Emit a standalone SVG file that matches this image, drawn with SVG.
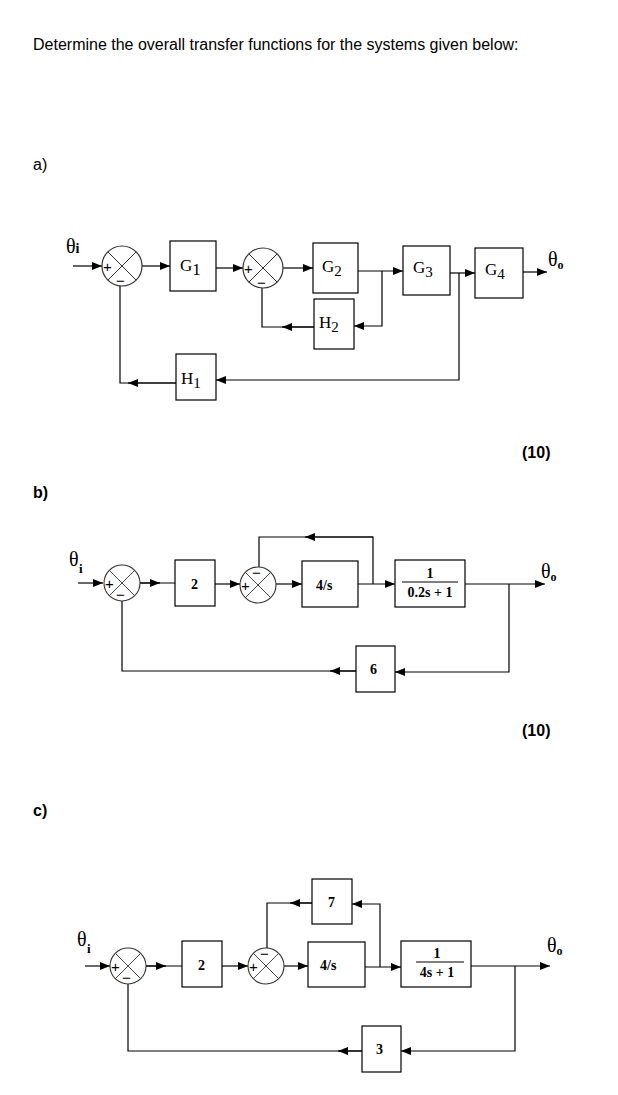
<svg xmlns="http://www.w3.org/2000/svg" width="618" height="1095" viewBox="0 0 618 1095">
<defs>
<marker id="ah" viewBox="0 0 10 8" refX="10" refY="4" markerWidth="10" markerHeight="8" markerUnits="userSpaceOnUse" orient="auto"><path d="M0,0 L10,4 L0,8 Z" fill="#000"/></marker>
<g id="sx"><circle r="1" fill="#fff" stroke="#333" stroke-width="0.06"/><path d="M-0.707,-0.707 L0.707,0.707 M0.707,-0.707 L-0.707,0.707" stroke="#333" stroke-width="0.05"/></g>
</defs>
<style>
.h{font-family:"Liberation Sans",Arial,sans-serif;font-size:16px;fill:#000}
.hb{font-family:"Liberation Sans",Arial,sans-serif;font-size:16px;font-weight:bold;fill:#000}
.t{font-family:"Liberation Serif","Times New Roman",serif;fill:#000}
.b{fill:#fff;stroke:#000;stroke-width:1.2}
.l{fill:none;stroke:#000;stroke-width:1.2}
.a{fill:none;stroke:#000;stroke-width:1.2;marker-end:url(#ah)}
.s{font-family:"Liberation Sans",Arial,sans-serif;font-size:15px;fill:#000}
</style>
<rect width="618" height="1095" fill="#fff"/>
<text class="h" x="33" y="50">Determine the overall transfer functions for the systems given below:</text>
<text class="h" x="33" y="170">a)</text>
<text class="hb" x="33" y="498">b)</text>
<text class="hb" x="33" y="816">c)</text>
<text class="hb" x="522" y="458">(10)</text>
<text class="hb" x="522" y="736">(10)</text>

<!-- Diagram a -->
<g id="a-connectors">
<path class="a" d="M73,266 L102,266"/>
<path class="a" d="M142,266 L170,266"/>
<path class="a" d="M216,268 L243,268"/>
<path class="a" d="M283,268 L313,268"/>
<path class="a" d="M358,271 L403,271"/>
<path class="a" d="M382,271 L382,326 L354,326"/>
<path class="l" d="M314,327 L262,327 L262,288"/>
<path class="a" d="M314,327 L282,327"/>
<path class="a" d="M450,273 L475,273"/>
<path class="a" d="M459,273 L459,380 L216,380"/>
<path class="l" d="M176,383 L120,383 L120,286"/>
<path class="a" d="M176,383 L128,383"/>
<path class="a" d="M523,272 L547,272"/>
</g>
<g id="a-sum1"><use href="#sx" transform="translate(122,266) scale(20)"/><text class="s" x="103" y="272">+</text><text class="s" x="116" y="286">−</text></g>
<g id="a-G1"><rect class="b" x="170" y="241" width="46" height="50"/><text class="t" x="180" y="271" font-size="17">G<tspan font-size="17" dy="4">1</tspan></text></g>
<g id="a-sum2"><use href="#sx" transform="translate(263,268) scale(20)"/><text class="s" x="244" y="274">+</text><text class="s" x="257" y="288">−</text></g>
<g id="a-G2"><rect class="b" x="313" y="243" width="45" height="50"/><text class="t" x="322" y="272" font-size="17">G<tspan font-size="15" dy="4">2</tspan></text></g>
<g id="a-H2"><rect class="b" x="314" y="299" width="40" height="50"/><text class="t" x="319" y="328" font-size="17">H<tspan font-size="15" dy="4">2</tspan></text></g>
<g id="a-G3"><rect class="b" x="403" y="246" width="47" height="49"/><text class="t" x="413" y="273" font-size="17">G<tspan font-size="15" dy="4">3</tspan></text></g>
<g id="a-G4"><rect class="b" x="475" y="248" width="48" height="50"/><text class="t" x="485" y="275" font-size="17">G<tspan font-size="15" dy="4">4</tspan></text></g>
<g id="a-H1"><rect class="b" x="176" y="354" width="40" height="46"/><text class="t" x="181" y="384" font-size="17">H<tspan font-size="15" dy="4">1</tspan></text></g>
<text class="t" x="66" y="253" font-size="20">θ<tspan font-size="14" font-weight="bold">i</tspan></text>
<text class="t" x="548" y="266" font-size="20">θ<tspan font-size="12" font-weight="bold" dy="3">o</tspan></text>

<!-- Diagram b -->
<g id="b-connectors">
<path class="a" d="M78,583 L103,583"/>
<path class="l" d="M140,583 L175,583"/>
<path class="a" d="M140,583 L160,583"/>
<path class="a" d="M215,584 L240,584"/>
<path class="a" d="M276,584 L302,584"/>
<path class="a" d="M358,584 L395,584"/>
<path class="l" d="M373,584 L373,537 L259,537 L259,567"/>
<path class="a" d="M373,537 L305,537"/>
<path class="a" d="M465,584 L545,584"/>
<path class="a" d="M509,584 L509,672 L395,672"/>
<path class="l" d="M356,671 L122,671 L122,601"/>
<path class="a" d="M356,671 L330,671"/>
</g>
<g id="b-sum1"><use href="#sx" transform="translate(122,583) scale(18)"/><text class="s" x="105" y="589">+</text><text class="s" x="116" y="600">−</text></g>
<g id="b-2"><rect class="b" x="175" y="560" width="40" height="46"/><text class="t" x="191" y="589" font-size="14" font-weight="bold">2</text></g>
<g id="b-sum2"><use href="#sx" transform="translate(258,585) scale(18)"/><text class="s" x="241" y="591">+</text><text class="s" x="252" y="578">−</text></g>
<g id="b-4s"><rect class="b" x="302" y="561" width="56" height="46"/><text class="t" x="316" y="590" font-size="14" font-weight="bold">4/s</text></g>
<g id="b-frac"><rect class="b" x="395" y="560" width="70" height="47"/><text class="t" x="430" y="578" font-size="14" font-weight="bold" text-anchor="middle">1</text><line x1="402" y1="582" x2="458" y2="582" stroke="#000" stroke-width="1"/><text class="t" x="430" y="597" font-size="14" font-weight="bold" text-anchor="middle">0.2s + 1</text></g>
<g id="b-6"><rect class="b" x="356" y="646" width="39" height="46"/><text class="t" x="370" y="674" font-size="14" font-weight="bold">6</text></g>
<text class="t" x="69" y="566" font-size="20">θ</text><text class="t" x="79" y="573" font-size="13" font-weight="bold">i</text>
<text class="t" x="541" y="578" font-size="20">θ<tspan font-size="12" font-weight="bold" dy="3">o</tspan></text>

<!-- Diagram c -->
<g id="c-connectors">
<path class="a" d="M85,966 L110,966"/>
<path class="l" d="M146,966 L182,966"/>
<path class="a" d="M146,966 L166,966"/>
<path class="a" d="M222,966 L248,966"/>
<path class="a" d="M284,966 L308,966"/>
<path class="a" d="M365,967 L401,967"/>
<path class="a" d="M380,967 L380,904 L352,904"/>
<path class="l" d="M312,903 L267,903 L267,948"/>
<path class="a" d="M312,903 L290,903"/>
<path class="a" d="M471,966 L550,966"/>
<path class="a" d="M515,966 L515,1051 L401,1051"/>
<path class="l" d="M362,1051 L128,1051 L128,984"/>
<path class="a" d="M362,1051 L338,1051"/>
</g>
<g id="c-sum1"><use href="#sx" transform="translate(128,966) scale(18)"/><text class="s" x="111" y="972">+</text><text class="s" x="122" y="983">−</text></g>
<g id="c-2"><rect class="b" x="182" y="941" width="40" height="46"/><text class="t" x="198" y="970" font-size="14" font-weight="bold">2</text></g>
<g id="c-sum2"><use href="#sx" transform="translate(266,966) scale(18)"/><text class="s" x="249" y="972">+</text><text class="s" x="260" y="959">−</text></g>
<g id="c-4s"><rect class="b" x="308" y="942" width="57" height="45"/><text class="t" x="320" y="970" font-size="14" font-weight="bold">4/s</text></g>
<g id="c-7"><rect class="b" x="312" y="879" width="40" height="45"/><text class="t" x="328" y="907" font-size="14" font-weight="bold">7</text></g>
<g id="c-frac"><rect class="b" x="401" y="941" width="70" height="46"/><text class="t" x="437" y="958" font-size="14" font-weight="bold" text-anchor="middle">1</text><line x1="416" y1="962" x2="464" y2="962" stroke="#000" stroke-width="1"/><text class="t" x="437" y="977" font-size="14" font-weight="bold" text-anchor="middle">4s + 1</text></g>
<g id="c-3"><rect class="b" x="362" y="1026" width="39" height="46"/><text class="t" x="376" y="1054" font-size="14" font-weight="bold">3</text></g>
<text class="t" x="77" y="946" font-size="20">θ</text><text class="t" x="87" y="953" font-size="13" font-weight="bold">i</text>
<text class="t" x="547" y="952" font-size="20">θ<tspan font-size="12" font-weight="bold" dy="3">o</tspan></text>
</svg>
